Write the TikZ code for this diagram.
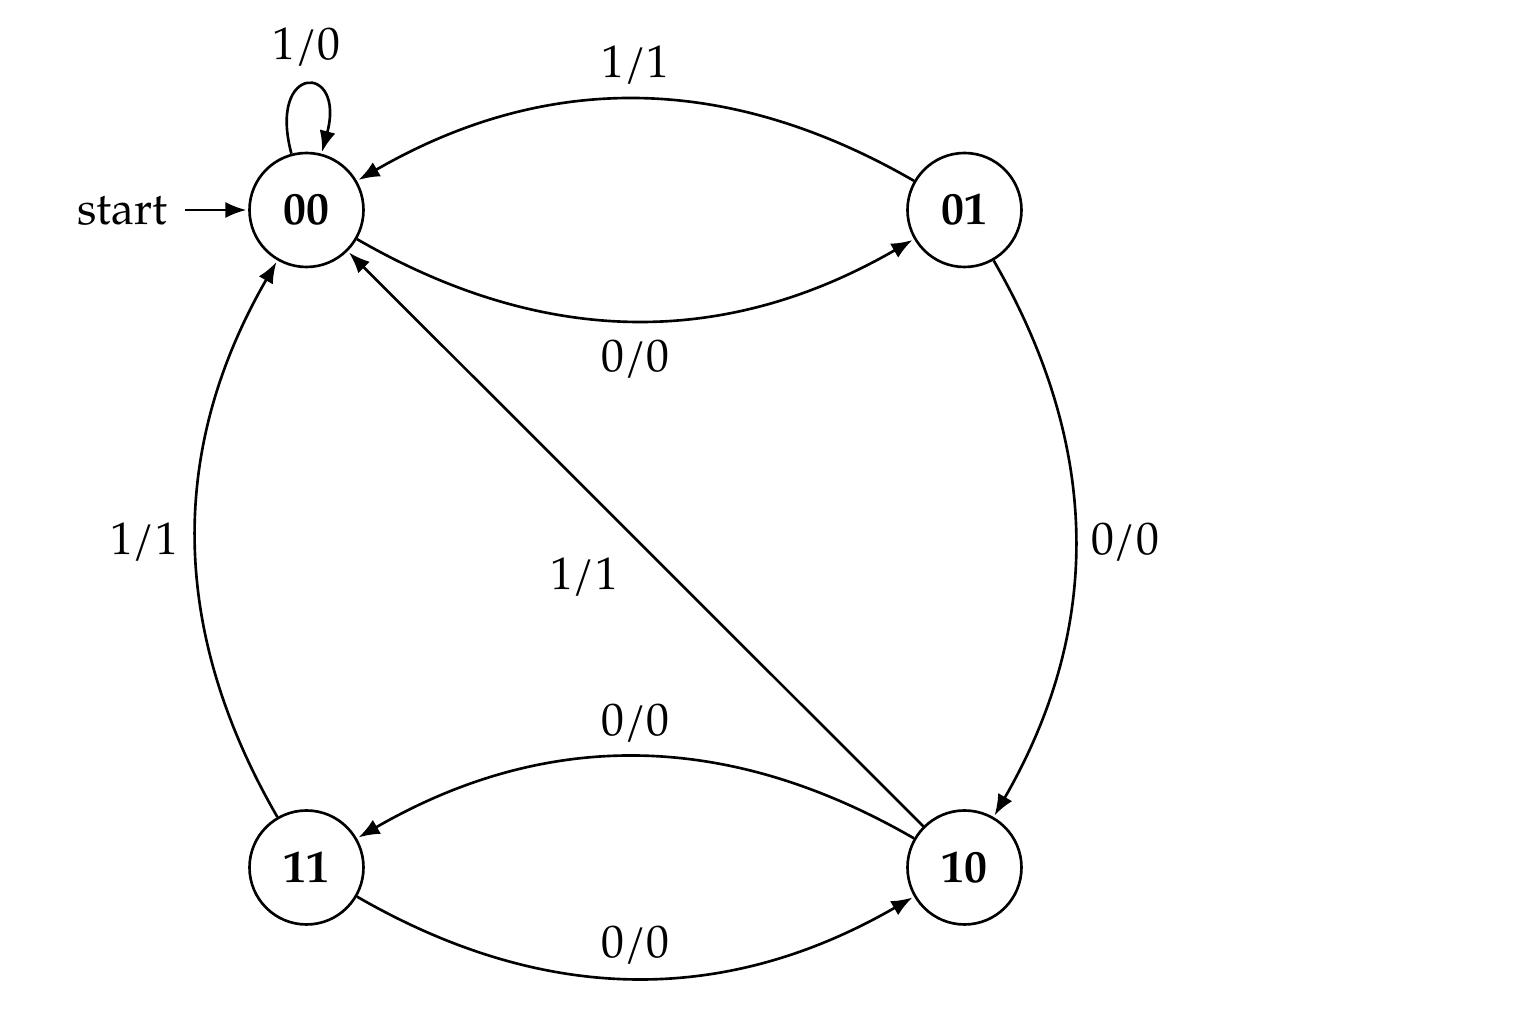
\documentclass[tikz,border=0pt]{standalone}
\usepackage{fontspec}
\setmainfont{TeX Gyre Pagella}
\usetikzlibrary{arrows.meta}
\begin{document}
\begin{tikzpicture}[
  x=1cm,y=1cm,
  every node/.style={font=\fontsize{13}{15}\selectfont},
  statenode/.style={circle, draw, line width=0.75pt, minimum size=1.14cm, inner sep=0pt, font=\fontsize{13}{15}\selectfont\bfseries},
  tr/.style={-{Latex[length=6pt,width=4.6pt]}, line width=0.75pt, shorten >=0.5pt},
  lbl/.style={inner sep=0pt}
]
\useasboundingbox (0,0) rectangle (15.14,10.10);
\node[statenode] (q00) at (3.065,8.00) {00};
\node[statenode] (q01) at (9.645,8.00) {01};
\node[statenode] (q11) at (3.065,1.425) {11};
\node[statenode] (q10) at (9.645,1.425) {10};
\coordinate (st) at (1.85,8.00);
\node[anchor=east, inner sep=0pt] (sttxt) at (1.68,7.99) {start};
\draw[tr] (st) -- (q00);
\draw[tr] (q00) to[out=105,in=75,looseness=8] node[lbl,yshift=0.38cm]{1/0} (q00);
\draw[tr] (q00) to[bend right=30] node[lbl,yshift=-0.39cm]{0/0} (q01);
\draw[tr] (q01) to[bend right=30] node[lbl,yshift=0.34cm]{1/1} (q00);
\draw[tr] (q01) to[bend left=30] node[lbl,xshift=0.50cm,yshift=-0.03cm]{0/0} (q10);
\draw[tr] (q10) to[bend right=30] node[lbl,yshift=0.34cm]{0/0} (q11);
\draw[tr] (q11) to[bend right=30] node[lbl,yshift=0.33cm]{0/0} (q10);
\draw[tr] (q11) to[bend left=30] node[lbl,xshift=-0.52cm,yshift=-0.03cm]{1/1} (q00);
\draw[tr] (q10) -- node[lbl,pos=0.52,xshift=-0.40cm,yshift=-0.50cm]{1/1} (q00);
\end{tikzpicture}
\end{document}
